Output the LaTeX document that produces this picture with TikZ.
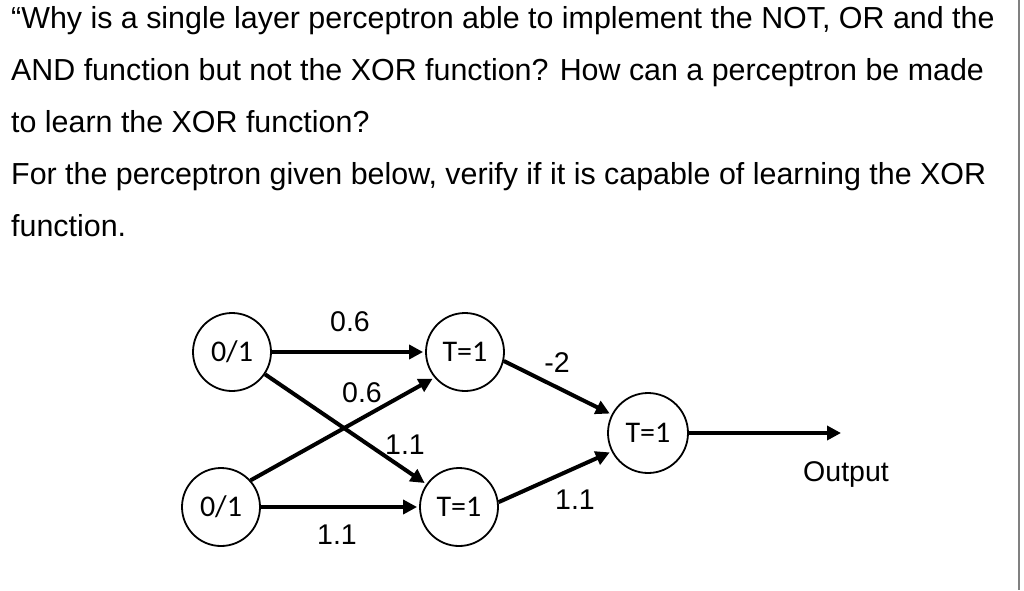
\documentclass[tikz,border=0pt]{standalone}
\usepackage{fontspec}
\setmainfont{Liberation Sans}
\newfontfamily\nodefont{Carlito}
\usetikzlibrary{arrows.meta}
\begin{document}
\begin{tikzpicture}[x=1pt,y=-1pt,
  para/.style={anchor=base west,inner sep=0pt,font=\fontsize{30.4}{36}\selectfont},
  neuron/.style={circle,draw,line width=1.8pt,minimum size=78pt,inner sep=0pt,font=\nodefont\fontsize{30}{34}\selectfont},
  wlabel/.style={inner sep=0pt,font=\fontsize{28.5}{32}\selectfont},
  conn/.style={line width=4pt,-{Triangle[length=14pt,width=14pt]},shorten >=2pt}
]
\useasboundingbox (0,0) rectangle (1024,590);
\fill[white] (0,0) rectangle (1024,590);
\draw[gray,line width=1.2pt] (1019,0) -- (1019,590);
% text
\node[para] (t1) at (11,28) {“Why is a single layer perceptron able to implement the NOT, OR and the};
\node[para] (t2) at (11,80) {AND function but not the XOR function? How can a perceptron be made};
\node[para] (t3) at (11,132) {to learn the XOR function?};
\node[para] (t4) at (11,184) {For the perceptron given below, verify if it is capable of learning the XOR};
\node[para] (t5) at (11,236) {function.};
% neurons
\node[neuron] (i1) at (232,352) {0/1};
\node[neuron] (i2) at (221,507) {0/1};
\node[neuron] (h1) at (465,352) {T=1};
\node[neuron] (h2) at (459,507) {T=1};
\node[neuron,minimum size=80pt] (o) at (648,433) {T=1};
\coordinate (out) at (841,433);
% connectors
\draw[conn] (i1) -- (h1);
\draw[conn] (i2) -- (h2);
\draw[conn] (i1.-34) -- (h2.145);
\draw[conn] (i2.42) -- (h1.220);
\draw[conn] (h1.-13) -- (o.153);
\draw[conn] (h2.7) -- (o.207);
\draw[conn,shorten >=0pt] (o) -- (out);
% labels
\node[wlabel] (l1) at (350,322) {0.6};
\node[wlabel] (l2) at (362,393) {0.6};
\node[wlabel] (l3) at (405,445) {1.1};
\node[wlabel] (l4) at (337,535) {1.1};
\node[wlabel] (l5) at (557,363) {-2};
\node[wlabel] (l6) at (575,500) {1.1};
\node[wlabel] (l7) at (846,474) {Output};
\end{tikzpicture}
\end{document}
